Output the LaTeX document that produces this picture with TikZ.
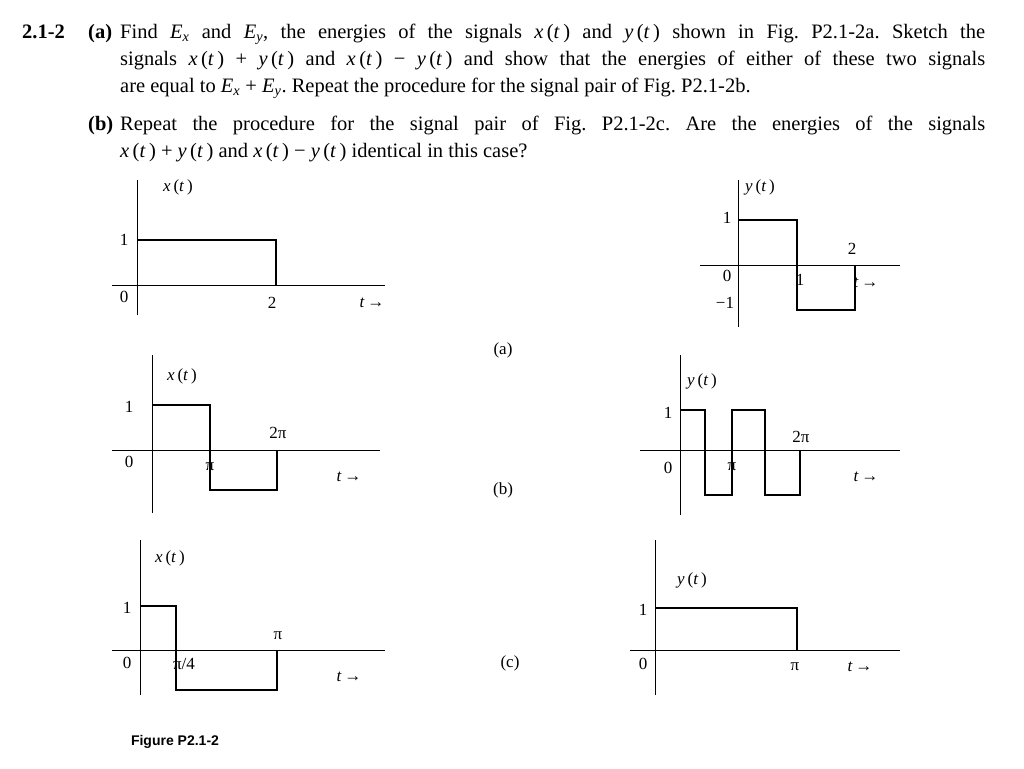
\documentclass[tikz,border=0pt]{standalone}
\usepackage{fontspec}
\setmainfont{Liberation Serif}
\newfontfamily\figfont{Liberation Sans}
\newcommand{\xt}{\textit{x}\,(\textit{t}\,)}
\newcommand{\yt}{\textit{y}\,(\textit{t}\,)}
\newcommand{\Ex}{\textit{E}\textsubscript{\textit{x}}}
\newcommand{\Ey}{\textit{E}\textsubscript{\textit{y}}}
\begin{document}
\begin{tikzpicture}[x=1pt,y=-1pt,
  txt/.style={anchor=base west,inner sep=0pt,font=\fontsize{20.5}{24}\selectfont\frenchspacing},
  lbl/.style={inner sep=0pt,font=\fontsize{17}{19}\selectfont},
  ax/.style={line width=0.9pt},
  sig/.style={line width=1.5pt}]
\useasboundingbox (0,0) rectangle (1024,768);
% text
\node[txt] (n) at (22,38) {\textbf{2.1-2}};
\node[txt] (pa) at (88,38) {\textbf{(a)}};
\node[txt] (l1) at (120,38) {\makebox[865pt][s]{Find \Ex{} and \Ey, the energies of the signals \xt{} and \yt{} shown in Fig. P2.1-2a. Sketch the}};
\node[txt] (l2) at (120,65) {\makebox[865pt][s]{signals \xt{} + \yt{} and \xt{} − \yt{} and show that the energies of either of these two signals}};
\node[txt] (l3) at (120,92) {are equal to \Ex{} + \Ey. Repeat the procedure for the signal pair of Fig. P2.1-2b.};
\node[txt] (pb) at (88,130) {\textbf{(b)}};
\node[txt] (l4) at (120,130) {\makebox[865pt][s]{Repeat the procedure for the signal pair of Fig. P2.1-2c. Are the energies of the signals}};
\node[txt] (l5) at (120,157) {\xt{} + \yt{} and \xt{} − \yt{} identical in this case?};
% (a) left
\draw[ax] (137,180) -- (137,315); \draw[ax] (112,285) -- (385,285);
\draw[sig] (137,240) -- (276,240) -- (276,285);
\node[lbl] (a1) at (178,187) {\xt}; \node[lbl] (a2) at (124,240) {1};
\node[lbl] (a3) at (124,297) {0}; \node[lbl] (a4) at (272,303) {2};
\node[lbl] (a5) at (372,303) {\textit{t}\,→};
% (a) right
\draw[ax] (738,180) -- (738,327); \draw[ax] (700,265) -- (900,265);
\draw[sig] (738,220) -- (797,220) -- (797,310) -- (855,310) -- (855,265);
\node[lbl] (b1) at (760,187) {\yt}; \node[lbl] (b2) at (727,218) {1};
\node[lbl] (b3) at (727,276) {0}; \node[lbl] (b4) at (725,303) {−1};
\node[lbl] (b5) at (800,280) {1}; \node[lbl] (b6) at (852,249) {2};
\node[lbl] (b7) at (866,283) {\textit{t}\,→};
\node[lbl] (ca) at (503,350) {(a)};
% (b) left
\draw[ax] (152,355) -- (152,513); \draw[ax] (112,450) -- (380,450);
\draw[sig] (152,405) -- (210,405) -- (210,490) -- (277,490) -- (277,450);
\node[lbl] (c1) at (182,376) {\xt}; \node[lbl] (c2) at (129,407) {1};
\node[lbl] (c3) at (129,462) {0}; \node[lbl] (c4) at (210,467) {π};
\node[lbl] (c5) at (278,433) {2π}; \node[lbl] (c6) at (349,477) {\textit{t}\,→};
% (b) right
\draw[ax] (680,355) -- (680,515); \draw[ax] (640,450) -- (900,450);
\draw[sig] (680,410) -- (705,410) -- (705,495) -- (732,495) -- (732,410) -- (765,410) -- (765,495) -- (800,495) -- (800,450);
\node[lbl] (d1) at (702,381) {\yt}; \node[lbl] (d2) at (668,413) {1};
\node[lbl] (d3) at (668,468) {0}; \node[lbl] (d4) at (732,467) {π};
\node[lbl] (d5) at (801,437) {2π}; \node[lbl] (d6) at (866,477) {\textit{t}\,→};
\node[lbl] (cb) at (503,490) {(b)};
% (c) left
\draw[ax] (140,540) -- (140,695); \draw[ax] (112,650) -- (385,650);
\draw[sig] (140,606) -- (176,606) -- (176,690) -- (277,690) -- (277,650);
\node[lbl] (e1) at (170,558) {\xt}; \node[lbl] (e2) at (127,608) {1};
\node[lbl] (e3) at (127,663) {0}; \node[lbl] (e4) at (184,664) {π/4};
\node[lbl] (e5) at (278,636) {π}; \node[lbl] (e6) at (349,677) {\textit{t}\,→};
% (c) right
\draw[ax] (655,540) -- (655,695); \draw[ax] (630,650) -- (900,650);
\draw[sig] (655,608) -- (797,608) -- (797,650);
\node[lbl] (f1) at (692,580) {\yt}; \node[lbl] (f2) at (643,610) {1};
\node[lbl] (f3) at (643,664) {0}; \node[lbl] (f4) at (795,667) {π};
\node[lbl] (f5) at (860,667) {\textit{t}\,→};
\node[lbl] (cc) at (510,663) {(c)};
\node[lbl,font=\figfont\bfseries\fontsize{14}{16}\selectfont] (fig) at (175,742) {Figure P2.1-2};
\end{tikzpicture}
\end{document}
